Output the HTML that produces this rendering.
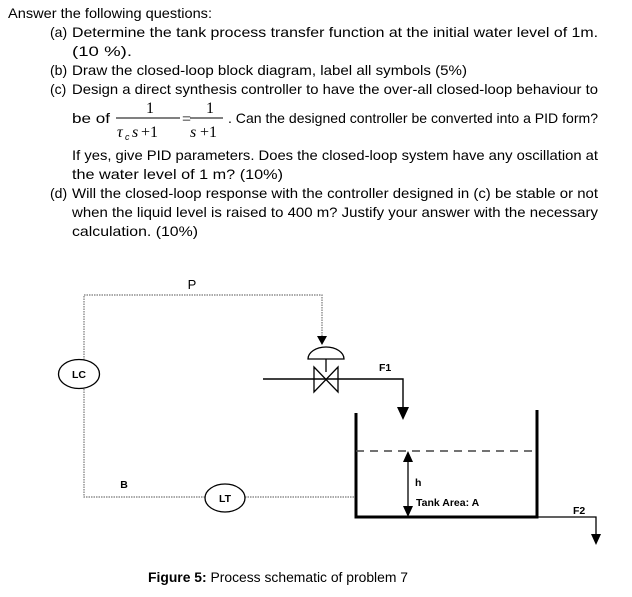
<!DOCTYPE html>
<html><head><meta charset="utf-8"><style>
html,body{margin:0;padding:0;background:#fff;}
svg{display:block;}
text{font-family:"Liberation Sans",sans-serif;fill:#000;}
.t{font-size:14px;}
.b{font-size:10.5px;font-weight:bold;}
.m{font-family:"Liberation Serif",serif;font-size:16px;}
</style></head><body>
<svg width="632" height="597" viewBox="0 0 632 597" xmlns="http://www.w3.org/2000/svg">
<g class="t">
<text x="8" y="18" class="t" textLength="204" lengthAdjust="spacingAndGlyphs">Answer the following questions:</text>
<text x="50" y="37" class="t">(a)</text>
<text x="72" y="37" class="t" textLength="526" lengthAdjust="spacingAndGlyphs">Determine the tank process transfer function at the initial water level of  1m.</text>
<text x="72" y="56" class="t" textLength="60" lengthAdjust="spacingAndGlyphs">(10 %).</text>
<text x="50" y="75" class="t">(b)</text>
<text x="72" y="75" class="t" textLength="395" lengthAdjust="spacingAndGlyphs">Draw the closed-loop block diagram, label all symbols  (5%)</text>
<text x="50" y="94" class="t">(c)</text>
<text x="72" y="94" class="t" textLength="526" lengthAdjust="spacingAndGlyphs">Design a direct synthesis controller to have the over-all closed-loop behaviour to</text>
<text x="72" y="123" class="t" textLength="38" lengthAdjust="spacingAndGlyphs">be of</text>
<text x="146" y="113" class="m">1</text>
<line x1="116" y1="118" x2="180" y2="118" stroke="#000" stroke-width="1"/>
<text x="117" y="137" class="m" font-style="italic">τ</text>
<text x="125" y="140" font-family="Liberation Serif" font-size="9" font-style="italic">c</text>
<text x="132" y="137" class="m" font-style="italic">s</text>
<text x="141" y="137" class="m">+1</text>
<text x="182" y="124" class="m">=</text>
<text x="206" y="113" class="m">1</text>
<line x1="190" y1="118" x2="223" y2="118" stroke="#000" stroke-width="1"/>
<text x="190" y="137" class="m" font-style="italic">s</text>
<text x="200" y="137" class="m">+1</text>
<text x="228" y="123" class="t" textLength="370" lengthAdjust="spacingAndGlyphs">. Can the designed controller be converted into a PID form?</text>
<text x="72" y="160" class="t" textLength="526" lengthAdjust="spacingAndGlyphs">If yes, give PID parameters. Does the closed-loop system have any oscillation at</text>
<text x="72" y="179" class="t" textLength="211" lengthAdjust="spacingAndGlyphs">the water level of 1 m? (10%)</text>
<text x="50" y="198" class="t">(d)</text>
<text x="72" y="198" class="t" textLength="526" lengthAdjust="spacingAndGlyphs">Will the closed-loop response with the controller designed in (c) be stable or not</text>
<text x="72" y="217" class="t" textLength="526" lengthAdjust="spacingAndGlyphs">when the liquid level is raised to 400 m? Justify your answer with the necessary</text>
<text x="72" y="236" class="t" textLength="126" lengthAdjust="spacingAndGlyphs">calculation. (10%)</text>
</g>

<!-- dotted signal lines -->
<g stroke="#777" stroke-width="1.2" stroke-dasharray="1.5,1" fill="none">
<polyline points="84,360 84,295 322,295 322,338"/>
<polyline points="84,389 84,497 205,497"/>
<line x1="245" y1="497" x2="355" y2="497"/>
</g>
<polygon points="317,336 327,336 322,345" fill="#000"/>

<!-- LC, LT -->
<ellipse cx="79" cy="374" rx="20.5" ry="14.5" fill="#fff" stroke="#000" stroke-width="1.3"/>
<text x="79" y="378" class="b" text-anchor="middle">LC</text>
<ellipse cx="225" cy="498" rx="20" ry="14" fill="#fff" stroke="#000" stroke-width="1.3"/>
<text x="225" y="502" class="b" text-anchor="middle">LT</text>
<text x="192" y="289" font-size="13" text-anchor="middle">P</text>
<text x="124" y="488" class="b" text-anchor="middle">B</text>

<!-- valve -->
<path d="M308,359 A18,12 0 0 1 344,359 Z" fill="#fff" stroke="#000" stroke-width="1.3"/>
<line x1="326" y1="359" x2="326" y2="372" stroke="#000" stroke-width="1.3"/>
<polygon points="314,367 338,392 338,367 314,392" fill="#fff" stroke="#000" stroke-width="1.3"/>
<polyline points="263,379 403,379 403,410" fill="none" stroke="#000" stroke-width="1.4"/>
<polygon points="397,407 409,407 403,420" fill="#000"/>
<text x="379" y="371" class="b">F1</text>

<!-- tank -->
<polyline points="356,413 356,517 537,517 537,410" fill="none" stroke="#000" stroke-width="3"/>
<line x1="356" y1="451" x2="537" y2="451" stroke="#444" stroke-width="1.4" stroke-dasharray="8,6"/>
<line x1="408" y1="460" x2="408" y2="508" stroke="#000" stroke-width="1.3"/>
<polygon points="403,462 413,462 408,451" fill="#000"/>
<polygon points="403,506 413,506 408,517" fill="#000"/>
<text x="415" y="486" class="b">h</text>
<text x="416" y="506" class="b">Tank Area: A</text>
<polyline points="537,517 596,517 596,536" fill="none" stroke="#000" stroke-width="1.3"/>
<polygon points="591,534 601,534 596,545" fill="#000"/>
<text x="573" y="514" class="b">F2</text>

<text x="148" y="582" font-size="13.5" textLength="260" lengthAdjust="spacingAndGlyphs"><tspan font-weight="bold">Figure 5:</tspan> Process schematic of problem 7</text>
</svg>
</body></html>
